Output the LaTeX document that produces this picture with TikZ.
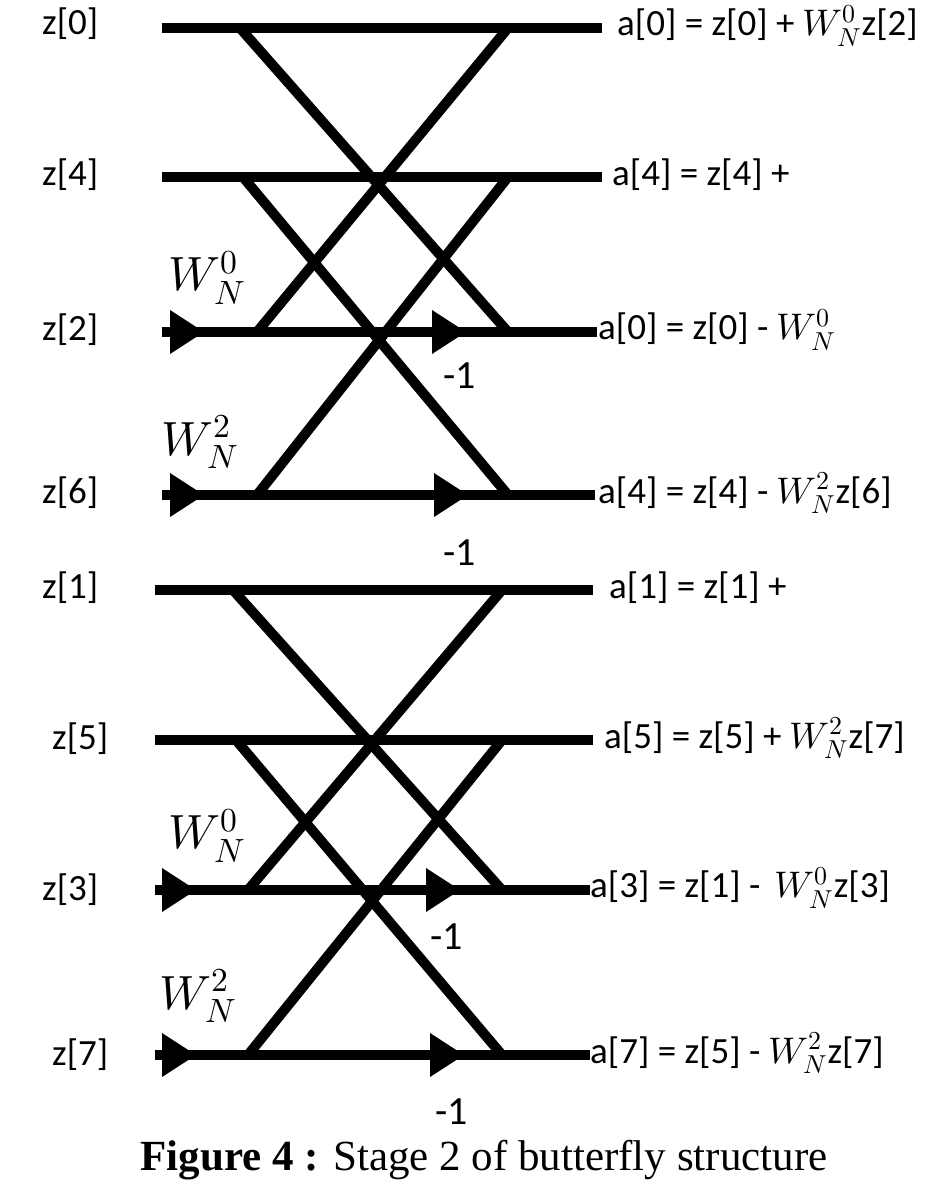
\documentclass[tikz,border=0pt]{standalone}
\usepackage{fontspec}
\usepackage{unicode-math}
\setmainfont{Carlito}
\setmathfont{Latin Modern Math}
\newfontfamily\capfont{Liberation Serif}
\begin{document}
\begin{tikzpicture}[x=1pt,y=-1pt,
  wire/.style={line width=10pt},
  lbl/.style={font=\fontsize{37}{40}\selectfont, inner sep=0pt},
  wlbl/.style={font=\fontsize{48}{52}\selectfont, inner sep=0pt},
  mone/.style={font=\fontsize{40}{44}\selectfont, inner sep=0pt}]
\useasboundingbox (0,0) rectangle (931,1184);
\newcommand{\tri}[2]{\fill (#1,#2-22) -- (#1+34,#2) -- (#1,#2+22) -- cycle;}
% ---- top group
\foreach \n/\y/\xe in {a/28/602,b/177/602,c/332/597,d/495/595}{
  \coordinate (\n L) at (162,\y); \coordinate (\n R) at (\xe,\y);}
\coordinate (d1a) at (240,28);  \coordinate (d1b) at (508,332);
\coordinate (d2a) at (508,28);  \coordinate (d2b) at (257,332);
\coordinate (d3a) at (243,177); \coordinate (d3b) at (508,495);
\coordinate (d4a) at (508,177); \coordinate (d4b) at (257,495);
\foreach \n in {a,b,c,d} \draw[wire] (\n L) -- (\n R);
\draw[wire] (d1a) -- (d1b); \draw[wire] (d2a) -- (d2b);
\draw[wire] (d3a) -- (d3b); \draw[wire] (d4a) -- (d4b);
\tri{170}{332}\tri{170}{495}\tri{432}{332}\tri{434}{495}
% ---- bottom group
\foreach \n/\y/\xe in {e/590/593,f/740/593,g/890/590,h/1055/590}{
  \coordinate (\n L) at (155,\y); \coordinate (\n R) at (\xe,\y);}
\coordinate (e1a) at (233,590);  \coordinate (e1b) at (502,890);
\coordinate (e2a) at (502,590);  \coordinate (e2b) at (248,890);
\coordinate (e3a) at (236,740);  \coordinate (e3b) at (502,1055);
\coordinate (e4a) at (502,740);  \coordinate (e4b) at (248,1055);
\foreach \n in {e,f,g,h} \draw[wire] (\n L) -- (\n R);
\draw[wire] (e1a) -- (e1b); \draw[wire] (e2a) -- (e2b);
\draw[wire] (e3a) -- (e3b); \draw[wire] (e4a) -- (e4b);
\tri{162}{890}\tri{162}{1055}\tri{426}{890}\tri{430}{1055}
% ---- input labels
\node[lbl,anchor=west] (z0) at (42,24) {z[0]};
\node[lbl,anchor=west] (z4) at (42,175) {z[4]};
\node[lbl,anchor=west] (z2) at (42,330) {z[2]};
\node[lbl,anchor=west] (z6) at (42,493) {z[6]};
\node[lbl,anchor=west] (z1) at (42,588) {z[1]};
\node[lbl,anchor=west] (z5) at (52,739) {z[5]};
\node[lbl,anchor=west] (z3) at (42,890) {z[3]};
\node[lbl,anchor=west] (z7) at (52,1055) {z[7]};
% ---- twiddle labels
\node[wlbl] (w1) at (207,278) {$W_N^0$};
\node[wlbl] (w2) at (200,442) {$W_N^2$};
\node[wlbl] (w3) at (207,836) {$W_N^0$};
\node[wlbl] (w4) at (198,996) {$W_N^2$};
\node[mone] (m1) at (460,376) {-1};
\node[mone] (m2) at (460,553) {-1};
\node[mone] (m3) at (447,937) {-1};
\node[mone] (m4) at (452,1112) {-1};
% ---- output labels
\node[lbl,anchor=west] (a0) at (617,26) {a[0] = z[0] + $W_N^0$z[2]};
\node[lbl,anchor=west] (a4) at (612,175) {a[4] = z[4] +};
\node[lbl,anchor=west] (a0b) at (598,330) {a[0] = z[0] - $W_N^0$};
\node[lbl,anchor=west] (a4b) at (598,493) {a[4] = z[4] - $W_N^2$z[6]};
\node[lbl,anchor=west] (a1) at (609,588) {a[1] = z[1] +};
\node[lbl,anchor=west] (a5) at (604,738) {a[5] = z[5] + $W_N^2$z[7]};
\node[lbl,anchor=west] (a3) at (590,888) {a[3] = z[1] -\, $W_N^0$z[3]};
\node[lbl,anchor=west] (a7) at (590,1053) {a[7] = z[5] - $W_N^2$z[7]};
% ---- caption
\node[inner sep=0pt,font=\capfont\fontsize{43}{46}\selectfont] (cap) at (484,1160)
  {\textbf{Figure 4 :} Stage 2 of butterfly structure};
\end{tikzpicture}
\end{document}
